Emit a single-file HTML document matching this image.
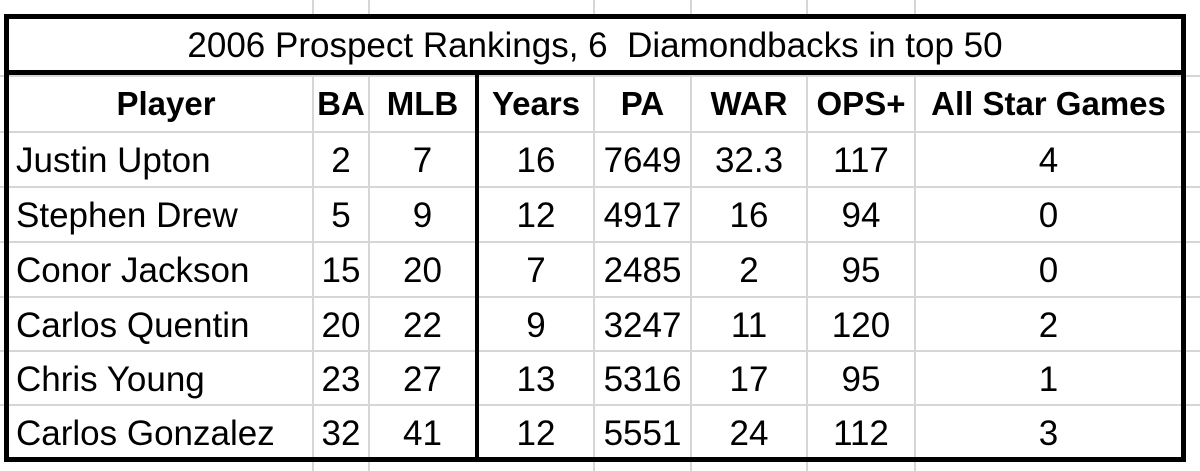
<!DOCTYPE html>
<html><head><style>
body{margin:0;width:1200px;height:471px;background:#fff;position:relative;overflow:hidden;font-family:"Liberation Sans",sans-serif;}
.g{position:absolute;background:#d6d6d6;}
.b{position:absolute;background:#000;}
.t{position:absolute;font-size:35px;color:#000;white-space:nowrap;text-align:center;line-height:54px;}
.h{font-weight:bold;font-size:33px;}
</style></head><body>
<div class="g" style="left:312px;top:0;width:2px;height:471px"></div>
<div class="g" style="left:368px;top:0;width:2px;height:471px"></div>
<div class="g" style="left:593px;top:0;width:2px;height:471px"></div>
<div class="g" style="left:690px;top:0;width:2px;height:471px"></div>
<div class="g" style="left:806px;top:0;width:2px;height:471px"></div>
<div class="g" style="left:914px;top:0;width:2px;height:471px"></div>
<div class="g" style="left:0;top:75px;width:1200px;height:2px"></div>
<div class="g" style="left:0;top:131px;width:1200px;height:2px"></div>
<div class="g" style="left:0;top:186px;width:1200px;height:2px"></div>
<div class="g" style="left:0;top:241px;width:1200px;height:2px"></div>
<div class="g" style="left:0;top:296px;width:1200px;height:2px"></div>
<div class="g" style="left:0;top:350px;width:1200px;height:2px"></div>
<div class="g" style="left:0;top:404px;width:1200px;height:2px"></div>
<div style="position:absolute;left:8px;top:19px;width:1174px;height:51px;background:#fff"></div>
<div class="b" style="left:4px;top:14px;width:1182px;height:5px"></div>
<div class="b" style="left:4px;top:70px;width:1182px;height:5px"></div>
<div class="b" style="left:4px;top:457px;width:1182px;height:5px"></div>
<div class="b" style="left:4px;top:14px;width:5px;height:448px"></div>
<div class="b" style="left:1181px;top:14px;width:5px;height:448px"></div>
<div class="b" style="left:475px;top:72px;width:4px;height:390px"></div>
<div class="t" style="left:8px;top:18px;width:1174px;line-height:56px">2006 Prospect Rankings, 6&nbsp; Diamondbacks in top 50</div>
<div id="c"></div>
<script>
const cols=[[16,300,'l'],[314,54],[370,105],[479,114],[595,95],[692,114],[808,106],[916,265]];
const rows=[["Player","BA","MLB","Years","PA","WAR","OPS+","All Star Games"],
["Justin Upton",2,7,16,7649,32.3,117,4],
["Stephen Drew",5,9,12,4917,16,94,0],
["Conor Jackson",15,20,7,2485,2,95,0],
["Carlos Quentin",20,22,9,3247,11,120,2],
["Chris Young",23,27,13,5316,17,95,1],
["Carlos Gonzalez",32,41,12,5551,24,112,3]];
const tops=[77,134,189,244,299,353,407];
let h='';
rows.forEach((r,i)=>r.forEach((v,j)=>{
 const [x,w,a]=cols[j];
 const al=(a==='l'&&i>0)?'left':'center';
 h+=`<div class="t${i==0?' h':''}" style="left:${x}px;top:${tops[i]}px;width:${w}px;text-align:${al};">${v}</div>`;
}));
document.getElementById('c').innerHTML=h;
</script>
</body></html>
